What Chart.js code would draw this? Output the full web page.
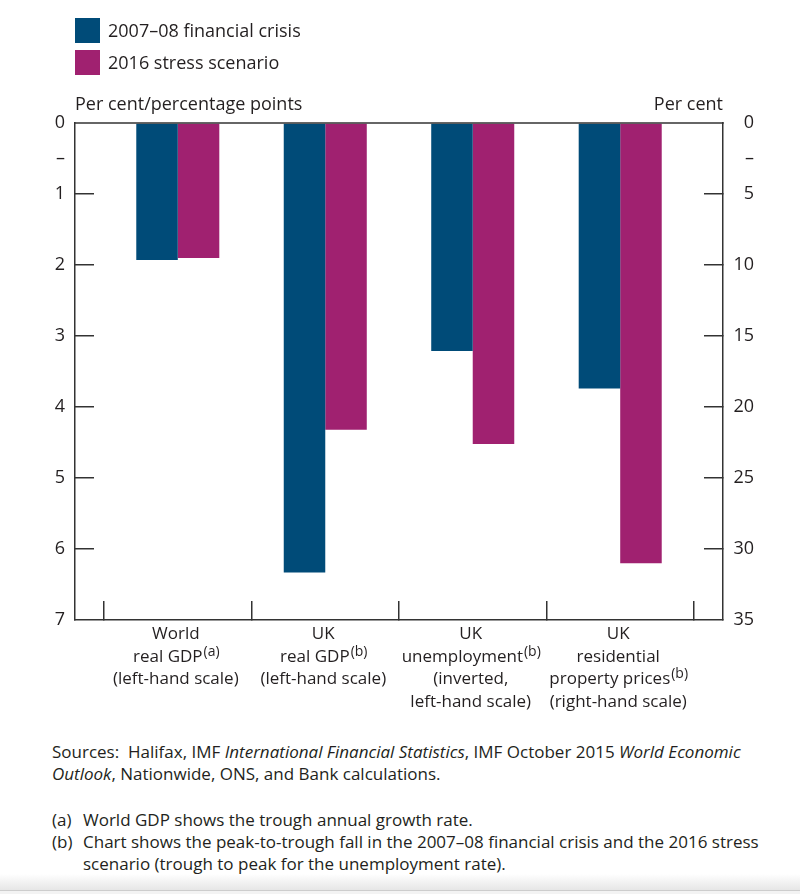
<!DOCTYPE html>
<html>
<head>
<meta charset="utf-8">
<script src="https://cdn.jsdelivr.net/npm/chart.js@4.4.0/dist/chart.umd.min.js"></script>
<style>
  html, body { margin: 0; padding: 0; background: #fff; }
  #wrap { position: relative; width: 800px; height: 894px; overflow: hidden; font-family: "Open Sans", sans-serif; color: #231f20; }
  #chartBox { position: absolute; left: 0; top: 0; width: 800px; height: 735px; }
  #legend { position: absolute; left: 75px; top: 14px; }
  .li { display: flex; align-items: center; height: 32px; font-size: 18px; white-space: nowrap; }
  .sw { width: 25px; height: 25px; margin-right: 8px; flex: none; }
  #sources { position: absolute; left: 52px; top: 741px; font-size: 17px; line-height: 22px; white-space: nowrap; }
  #notes { position: absolute; left: 52px; top: 809px; font-size: 17px; line-height: 22px; white-space: nowrap; }
  .n { display: flex; }
  .n .k { width: 31px; flex: none; }
  #shade { position: absolute; left: 0; top: 874px; width: 800px; height: 16px; background: linear-gradient(#ffffff, #e6e6e6); border-bottom: 1px solid #cdcdcd; }
  #shade2 { position: absolute; left: 0; top: 891px; width: 800px; height: 3px; background: #f3f3f3; }
</style>
</head>
<body>
<div id="wrap">
  <div id="chartBox"><canvas id="c"></canvas></div>
  <div id="legend"></div>
  <div id="sources">Sources:&nbsp; Halifax, IMF <i>International Financial Statistics</i>, IMF October 2015 <i>World Economic</i><br><i>Outlook</i>, Nationwide, ONS, and Bank calculations.</div>
  <div id="notes">
    <div class="n"><span class="k">(a)</span><span>World GDP shows the trough annual growth rate.</span></div>
    <div class="n"><span class="k">(b)</span><span>Chart shows the peak-to-trough fall in the 2007–08 financial crisis and the 2016 stress<br>scenario (trough to peak for the unemployment rate).</span></div>
  </div>
  <div id="shade"></div>
  <div id="shade2"></div>
</div>
<script>
// ---------- data ----------
const seriesNames = ['2007–08 financial crisis', '2016 stress scenario'];
const categoryLines = [
  ['World', 'real GDP', '(left-hand scale)'],
  ['UK', 'real GDP', '(left-hand scale)'],
  ['UK', 'unemployment', '(inverted,', 'left-hand scale)'],
  ['UK', 'residential', 'property prices', '(right-hand scale)']
];
const categoryNotes = ['(a)', '(b)', '(b)', '(b)'];
const categoryNoteLine = [1, 1, 1, 2];
// left-hand scale (per cent / percentage points)
const crisisLeft  = [1.93, 6.33, 3.21, null];
const stressLeft  = [1.90, 4.32, 4.52, null];
// right-hand scale (per cent)
const crisisRight = [null, null, null, 18.7];
const stressRight = [null, null, null, 31.0];
const leftTicks  = [0, 0.5, 1, 2, 3, 4, 5, 6, 7];
const rightTicks = [0, 2.5, 5, 10, 15, 20, 25, 30, 35];
const categoryBoundaries = [-0.5, 0.5, 1.5, 2.5, 3.5];
const leftAxisTitle = 'Per cent/percentage points';
const rightAxisTitle = 'Per cent';

// ---------- style ----------
const BLUE = '#004b78';
const PINK = '#a02170';
const AXIS = '#333333';
const TEXT = '#231f20';
const FONT = '"Open Sans", sans-serif';

const toPoints = arr => arr.map((v, i) => ({ x: i, y: v }));

// HTML legend
const legendEl = document.getElementById('legend');
[[seriesNames[0], BLUE], [seriesNames[1], PINK]].forEach(([name, col]) => {
  const d = document.createElement('div');
  d.className = 'li';
  d.innerHTML = '<span class="sw" style="background:' + col + '"></span><span>' + name + '</span>';
  legendEl.appendChild(d);
});

const decor = {
  id: 'decor',
  afterDraw(chart) {
    const { ctx, chartArea: a, scales } = chart;
    ctx.save();
    ctx.strokeStyle = AXIS;
    ctx.lineWidth = 1.5;
    ctx.beginPath();
    ctx.moveTo(a.left - 0.75, a.top);
    ctx.lineTo(a.right + 0.75, a.top);
    ctx.stroke();
    ctx.fillStyle = TEXT;
    ctx.font = '18px ' + FONT;
    ctx.textBaseline = 'middle';
    ctx.textAlign = 'left';
    ctx.fillText(leftAxisTitle, a.left, a.top - 18);
    ctx.textAlign = 'right';
    ctx.fillText(rightAxisTitle, a.right, a.top - 18);
    const main = '17px ' + FONT;
    const sup = '14px ' + FONT;
    categoryLines.forEach((lines, i) => {
      const cx = scales.x.getPixelForValue(i) - 2;
      lines.forEach((line, k) => {
        const y = a.bottom + 14 + k * 22.7;
        if (k === categoryNoteLine[i]) {
          ctx.font = main;
          const w1 = ctx.measureText(line).width;
          ctx.font = sup;
          const w2 = ctx.measureText(categoryNotes[i]).width;
          const x0 = cx - (w1 + w2) / 2;
          ctx.textAlign = 'left';
          ctx.font = main;
          ctx.fillText(line, x0, y);
          ctx.font = sup;
          ctx.fillText(categoryNotes[i], x0 + w1 + 1, y - 5);
        } else {
          ctx.font = main;
          ctx.textAlign = 'center';
          ctx.fillText(line, cx, y);
        }
      });
    });
    ctx.restore();
  }
};

const tickCol = hide => c => (c.tick && hide.includes(c.tick.value)) ? 'rgba(0,0,0,0)' : AXIS;

new Chart(document.getElementById('c'), {
  type: 'bar',
  data: {
    datasets: [
      { label: seriesNames[0], data: toPoints(crisisLeft),  backgroundColor: BLUE, yAxisID: 'y',  stack: 'crisis' },
      { label: seriesNames[1], data: toPoints(stressLeft),  backgroundColor: PINK, yAxisID: 'y',  stack: 'stress' },
      { label: seriesNames[0], data: toPoints(crisisRight), backgroundColor: BLUE, yAxisID: 'y2', stack: 'crisis' },
      { label: seriesNames[1], data: toPoints(stressRight), backgroundColor: PINK, yAxisID: 'y2', stack: 'stress' }
    ]
  },
  options: {
    responsive: true,
    maintainAspectRatio: false,
    animation: false,
    categoryPercentage: 0.563,
    barPercentage: 1.0,
    layout: { padding: { left: 0, right: 46, top: 123, bottom: 0 } },
    plugins: { legend: { display: false }, tooltip: { enabled: false } },
    scales: {
      x: {
        type: 'linear',
        position: 'bottom',
        offset: false,
        min: -0.697,
        max: 3.697,
        afterBuildTicks: s => { s.ticks = categoryBoundaries.map(v => ({ value: v })); },
        afterFit: s => { s.height = 115; },
        border: { display: true, color: AXIS, width: 1.5 },
        grid: { offset: false, drawOnChartArea: false, tickLength: -19, color: AXIS, tickColor: AXIS, tickWidth: 1.5, lineWidth: 1.5 },
        ticks: { display: false }
      },
      y: {
        type: 'linear',
        position: 'left',
        min: 0,
        max: 7,
        reverse: true,
        afterBuildTicks: s => { s.ticks = leftTicks.map(v => ({ value: v })); },
        afterFit: s => { s.width = 75; },
        border: { display: true, color: AXIS, width: 1.5 },
        grid: { drawOnChartArea: false, tickLength: -19, color: AXIS, tickColor: tickCol([0, 0.5, 7]), tickWidth: 1.5, lineWidth: 1.5 },
        ticks: {
          autoSkip: false, padding: 29, color: TEXT, font: { family: FONT, size: 18 },
          callback: v => v === 0.5 ? '–' : String(v)
        }
      },
      y2: {
        type: 'linear',
        position: 'right',
        min: 0,
        max: 35,
        reverse: true,
        afterBuildTicks: s => { s.ticks = rightTicks.map(v => ({ value: v })); },
        afterFit: s => { s.width = 31; },
        border: { display: true, color: AXIS, width: 1.5 },
        grid: { drawOnChartArea: false, tickLength: -19, color: AXIS, tickColor: tickCol([0, 2.5, 35]), tickWidth: 1.5, lineWidth: 1.5 },
        ticks: {
          autoSkip: false, padding: 10, crossAlign: 'far', color: TEXT, font: { family: FONT, size: 18 },
          callback: v => v === 2.5 ? '–' : String(v)
        }
      }
    }
  },
  plugins: [decor]
});
</script>
</body>
</html>
